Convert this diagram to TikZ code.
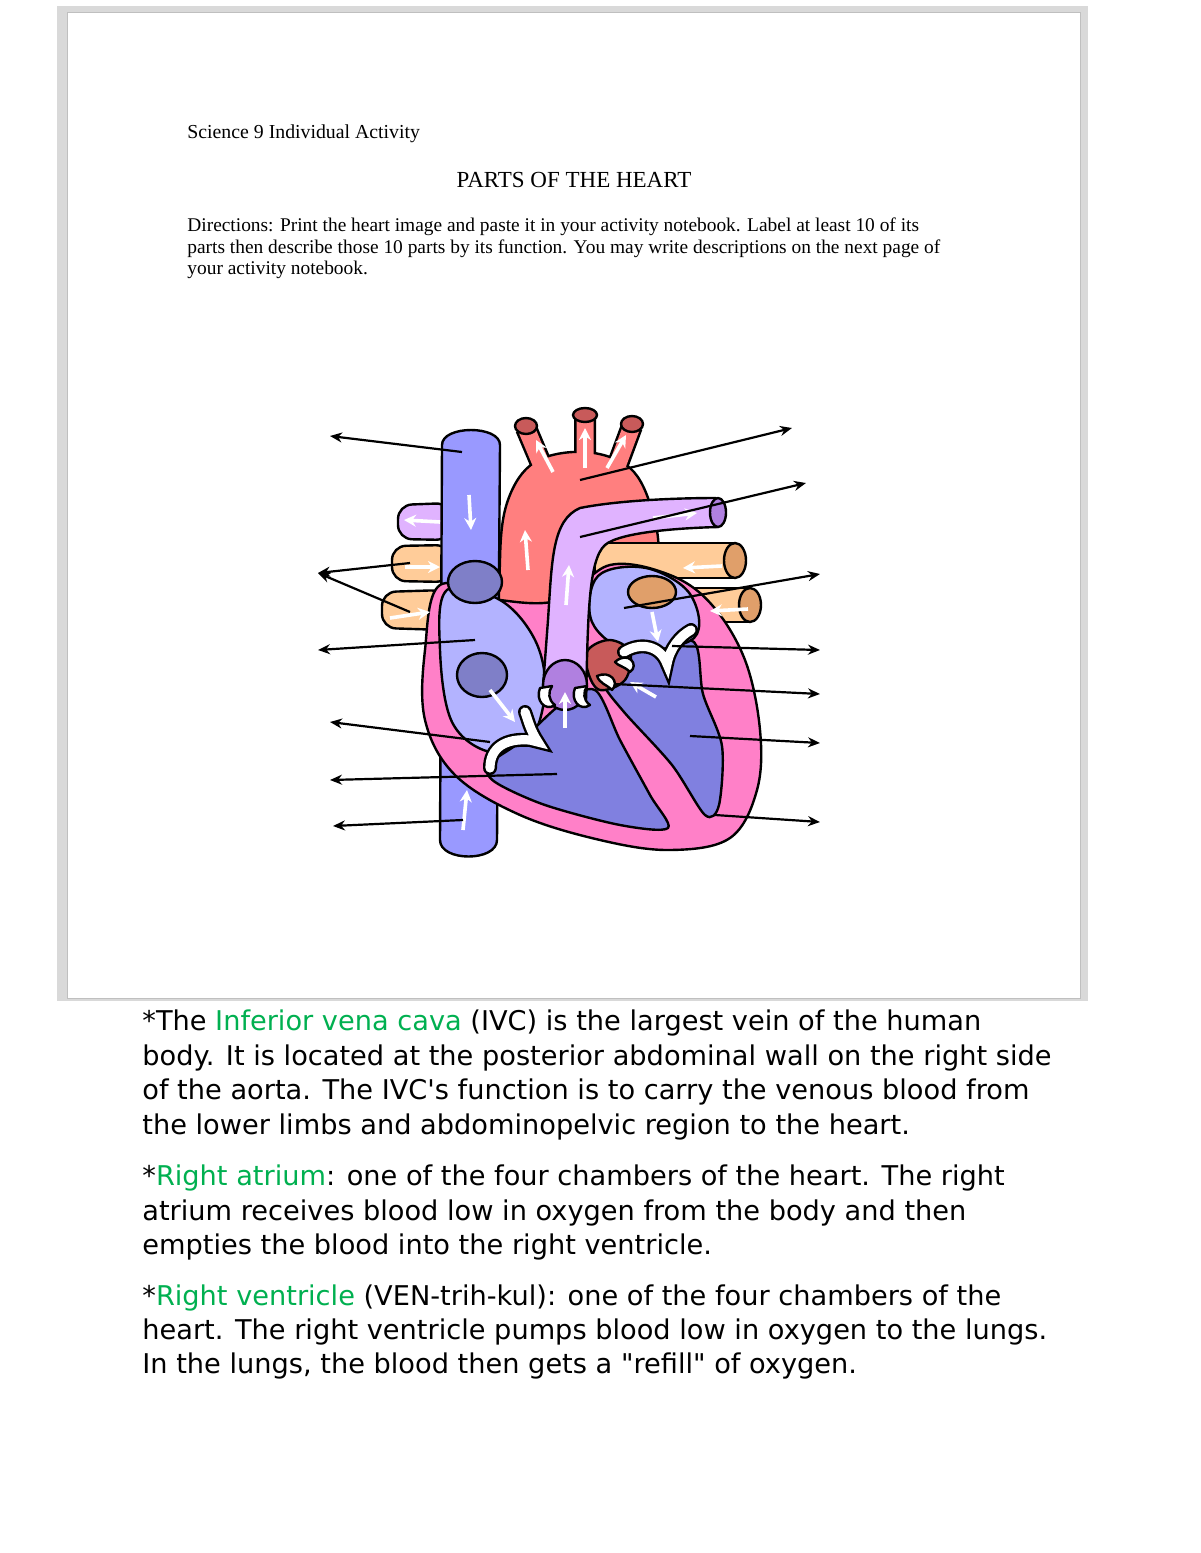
\documentclass[tikz,border=0pt]{standalone}
\usepackage{fontspec}
\setmainfont{Liberation Serif}
\newfontfamily\bodyfont{DejaVu Sans}
\usetikzlibrary{arrows.meta}
\definecolor{vc}{HTML}{9999FF}
\definecolor{ra}{HTML}{B3B3FF}
\definecolor{rv}{HTML}{8080E0}
\definecolor{pk}{HTML}{FF80C8}
\definecolor{rd}{HTML}{FF7F7F}
\definecolor{drd}{HTML}{C85A5A}
\definecolor{lil}{HTML}{E0B3FF}
\definecolor{pur}{HTML}{B080E0}
\definecolor{org}{HTML}{FFCC99}
\definecolor{dorg}{HTML}{E09F6A}
\definecolor{ell}{HTML}{7F7FC8}
\definecolor{grn}{HTML}{00B050}
\tikzset{
 part/.style={draw=black,line width=1.2pt,line join=round},
 flow/.style={white,line width=1.8pt,-{Stealth[length=6pt,width=6pt]}},
 lbl/.style={black,line width=1.1pt,-{Stealth[length=6pt,width=5pt]}},
 vout/.style={black,line width=7pt,line cap=round},
 vin/.style={white,line width=4.6pt,line cap=round},
 body/.style={anchor=base west,inner sep=0pt,font=\bodyfont\fontsize{13.6}{16}\selectfont},
 head/.style={inner sep=0pt,font=\fontsize{9.7}{11}\selectfont}
}
\begin{document}
\begin{tikzpicture}[x=0.5pt,y=-0.5pt]
\useasboundingbox (0,0) rectangle (1200,1553);
\fill[white] (0,0) rectangle (1200,1553);
% page frame
\fill[gray!30] (57,6) rectangle (1088,1001);
\fill[white,draw=gray!50,line width=0.5pt] (67,12) rectangle (1080,998);
% header
\node[head,anchor=base west,font=\fontsize{9.9}{11}\selectfont] (t1) at (187,138) {Science 9 Individual Activity};
\node[head,anchor=base,font=\fontsize{11.5}{13}\selectfont] (t2) at (574,187) {PARTS OF THE HEART};
\node[head,anchor=base west] (d1) at (187,231) {Directions: Print the heart image and paste it in your activity notebook. Label at least 10 of its};
\node[head,anchor=base west] (d2) at (187,253) {parts then describe those 10 parts by its function. You may write descriptions on the next page of};
\node[head,anchor=base west] (d3) at (187,274) {your activity notebook.};
% left back vessels
\draw[part,fill=lil,rounded corners=7pt] (450,503) -- (398,505) -- (398,539) -- (450,540) -- cycle;
\draw[part,fill=org,rounded corners=7pt] (450,545) -- (392,546) -- (392,581) -- (450,582) -- cycle;
\draw[part,fill=org,rounded corners=7pt] (445,590) -- (382,592) -- (382,628) -- (445,630) -- cycle;
% aorta branches outline
\draw[black,line width=11pt] (548,480) -- (526,428) (585,480) -- (585,416) (612,480) -- (632,426);
% aorta body
\draw[part,fill=rd] plot[smooth cycle,tension=0.6] coordinates {(505,650) (500,560) (508,500) (535,462) (585,452) (630,468) (652,510) (658,560) (640,620) (600,660) (560,680)};
\draw[rd,line width=8.5pt] (550,485) -- (526,428) (585,485) -- (585,416) (610,485) -- (632,426);
\draw[part,fill=drd] (526,426) ellipse [x radius=11,y radius=8];
\draw[part,fill=drd] (585,415) ellipse [x radius=12,y radius=7];
\draw[part,fill=drd] (632,424) ellipse [x radius=11,y radius=8];
% right orange veins
\draw[part,fill=org] (595,543) -- (735,543) -- (735,578) -- (595,578) -- cycle;
\draw[part,fill=dorg] (735,560.5) ellipse [x radius=11,y radius=17.5];
\draw[part,fill=org] (620,588) -- (750,588) -- (750,622) -- (620,622) -- cycle;
\draw[part,fill=dorg] (750,605) ellipse [x radius=11,y radius=17];
% vena cava
\draw[part,fill=vc] (442,445) .. controls (442,425) and (500,425) .. (500,445) -- (497,840) .. controls (497,862) and (440,862) .. (440,840) -- cycle;
% heart body
\draw[part,fill=pk] plot[smooth cycle,tension=0.6] coordinates {(440,585) (425,650) (425,720) (455,775) (520,815) (600,840) (670,850) (730,838) (757,790) (760,730) (745,660) (712,605) (670,575) (610,565) (560,600) (500,600)};
% chambers
\draw[part,fill=ra] plot[smooth cycle,tension=0.6] coordinates {(447,590) (440,650) (452,722) (490,752) (530,740) (545,690) (535,640) (500,600)};
\draw[part,fill=rv] plot[smooth cycle,tension=0.5] coordinates {(488,765) (520,742) (560,705) (595,690) (620,740) (650,795) (668,828) (620,825) (545,805) (495,782)};
\draw[part,fill=rv] plot[smooth cycle,tension=0.5] coordinates {(601,652) (650,645) (694,642) (703,694) (722,746) (719,805) (705,815) (672,765) (624,712) (602,682)};
\draw[part,fill=ra] plot[smooth cycle,tension=0.6] coordinates {(598,576) (646,568) (690,594) (694,638) (630,650) (592,622)};
\draw[part,fill=dorg] (652,592) ellipse [x radius=24,y radius=16];
\draw[part,fill=ell] (475,582) ellipse [x radius=27,y radius=21];
\draw[part,fill=ell] (482,675) ellipse [x radius=25,y radius=22];
% aortic root
\draw[part,fill=drd] plot[smooth cycle,tension=0.6] coordinates {(588,650) (610,640) (630,652) (625,680) (600,690) (588,672)};
% pulmonary trunk
\draw[part,fill=lil] (542,700) -- (548,620) .. controls (552,560) and (552,520) .. (580,508) .. controls (620,500) and (680,498) .. (716,498) -- (718,527) .. controls (680,528) and (620,532) .. (605,545) .. controls (588,560) and (588,620) .. (586,700) -- cycle;
\draw[part,fill=pur] (718,512.5) ellipse [x radius=8,y radius=14.5];
\draw[part,fill=pur] (565,685) ellipse [x radius=22,y radius=25];
% valves
\draw[part,fill=white] (540,688) .. controls (535,700) and (545,712) .. (555,705) .. controls (548,700) and (548,692) .. (552,686) -- cycle;
\draw[part,fill=white] (575,688) .. controls (570,700) and (580,712) .. (590,705) .. controls (583,700) and (583,692) .. (587,686) -- cycle;
\draw[vout] (490,768) .. controls (490,748) and (505,738) .. (530,740) -- (538,742) .. controls (530,730) and (528,720) .. (525,712);
\draw[vin] (490,768) .. controls (490,748) and (505,738) .. (530,740) -- (538,742) .. controls (530,730) and (528,720) .. (525,712);
\draw[vout] (624,652) .. controls (640,642) and (660,645) .. (667,664) .. controls (670,648) and (680,636) .. (691,630);
\draw[vin] (624,652) .. controls (640,642) and (660,645) .. (667,664) .. controls (670,648) and (680,636) .. (691,630);
\draw[part,fill=white] (615,662) .. controls (628,650) and (640,665) .. (630,672) .. controls (624,666) and (618,666) .. (615,662) -- cycle;
\draw[part,fill=white] (597,676) .. controls (610,670) and (620,682) .. (612,690) .. controls (606,684) and (600,684) .. (597,676) -- cycle;
% blood flow arrows
\draw[flow] (469,495) -- (471,530);
\draw[flow] (463,830) -- (467,790);
\draw[flow] (490,690) -- (515,722);
\draw[flow] (565,728) -- (565,692);
\draw[flow] (566,605) -- (569,565);
\draw[flow] (528,570) -- (525,530);
\draw[flow] (553,472) -- (536,440);
\draw[flow] (585,468) -- (585,428);
\draw[flow] (607,468) -- (626,435);
\draw[flow] (440,522) -- (404,520);
\draw[flow] (405,567) -- (440,567);
\draw[flow] (390,618) -- (430,612);
\draw[flow] (653,518) -- (697,513);
\draw[flow] (722,566) -- (683,568);
\draw[flow] (748,609) -- (710,611);
\draw[flow] (652,612) -- (658,642);
\draw[flow] (656,697) -- (630,682);
% label lines
\coordinate (L1) at (330,436); \coordinate (L2) at (318,573); \coordinate (L3) at (318,650);
\coordinate (L4) at (330,722); \coordinate (L5) at (330,780); \coordinate (L6) at (333,826);
\coordinate (R1) at (792,428); \coordinate (R2) at (806,483); \coordinate (R3) at (820,574);
\coordinate (R4) at (820,650); \coordinate (R5) at (820,694); \coordinate (R6) at (820,743); \coordinate (R7) at (820,822);
\draw[lbl] (462,452) -- (L1);
\draw[lbl] (410,563) -- (L2);
\draw[lbl] (410,612) -- (L2);
\draw[lbl] (475,640) -- (L3);
\draw[lbl] (490,742) -- (L4);
\draw[lbl] (557,774) -- (L5);
\draw[lbl] (463,820) -- (L6);
\draw[lbl] (580,480) -- (R1);
\draw[lbl] (580,537) -- (R2);
\draw[lbl] (624,608) -- (R3);
\draw[lbl] (672,646) -- (R4);
\draw[lbl] (614,684) -- (R5);
\draw[lbl] (690,736) -- (R6);
\draw[lbl] (715,815) -- (R7);
% body text
\node[body] (b1) at (142,1030) {*The \textcolor{grn}{Inferior vena cava} (IVC) is the largest vein of the human};
\node[body] (b2) at (142,1065) {body. It is located at the posterior abdominal wall on the right side};
\node[body] (b3) at (142,1099) {of the aorta. The IVC's function is to carry the venous blood from};
\node[body] (b4) at (142,1134) {the lower limbs and  abdominopelvic region to the heart.};
\node[body] (b5) at (142,1185) {*\textcolor{grn}{Right atrium}: one of the four chambers of the heart. The right};
\node[body] (b6) at (142,1220) {atrium receives blood low in oxygen from the body and then};
\node[body] (b7) at (142,1254) {empties the blood into the right ventricle.};
\node[body] (b8) at (142,1305) {*\textcolor{grn}{Right ventricle} (VEN-trih-kul): one of the four chambers of the};
\node[body] (b9) at (142,1339) {heart. The right ventricle pumps blood low in oxygen to the lungs.};
\node[body] (b10) at (142,1373) {In the lungs, the blood then gets a "refill" of oxygen.};
\end{tikzpicture}
\end{document}
